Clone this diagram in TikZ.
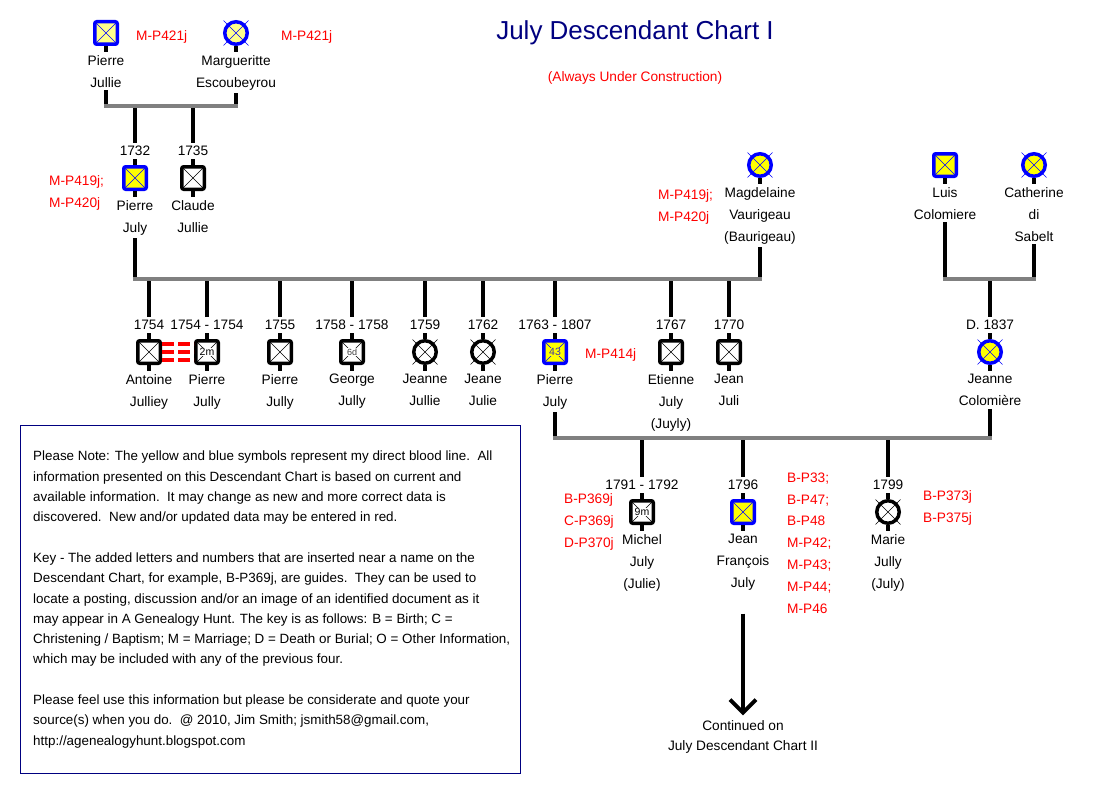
\documentclass[tikz,border=0pt]{standalone}
\usepackage{fontspec}
\setmainfont{Liberation Sans}
\usetikzlibrary{positioning,arrows.meta}

\definecolor{bloodblue}{RGB}{0,0,255}
\definecolor{bloodyellow}{RGB}{255,255,0}
\definecolor{paleyellow}{RGB}{255,255,140}
\definecolor{navy}{RGB}{0,0,128}
\definecolor{bargray}{RGB}{128,128,128}
\definecolor{badgeblue}{RGB}{60,50,170}

\begin{document}
\begin{tikzpicture}[
  x=1pt, y=-1pt,
  every node/.style={font=\fontsize{13.7}{22}\selectfont, align=center, inner sep=3pt},
  xline/.style={line width=0.6pt, black},
  male/.style={rectangle, rounded corners=2pt, draw=black, fill=white, line width=3.5pt,
    minimum size=22.5pt, inner sep=0pt,
    path picture={\draw[xline] (path picture bounding box.north west) -- (path picture bounding box.south east)
      (path picture bounding box.north east) -- (path picture bounding box.south west);}},
  female/.style={circle, draw=black, fill=white, line width=3.5pt, minimum size=22.5pt, inner sep=0pt},
  blood/.style={draw=bloodblue, fill=bloodyellow, xline/.style={line width=0.6pt, bloodblue}},
  badge/.style={font=\fontsize{10.5}{10}\selectfont, fill=white, inner sep=0.6pt},
  refnote/.style={text=red, align=left, anchor=west},
  kin/.style={line width=4pt, black},
  stub/.style={line width=3.5pt, black},
  bar/.style={line width=4pt, bargray, line cap=rect},
  twin/.style={line width=3.5pt, red, dash pattern=on 12pt off 4pt},
  contarrow/.style={line width=4pt, -{Straight Barb[length=13pt, width=26pt]}},
  charttitle/.style={font=\fontsize{26}{30}\selectfont, text=navy},
  notetext/.style={font=\fontsize{13.4}{20.3}\selectfont, align=left, anchor=north west, inner sep=0pt}
]
  \fill[white] (0,0) rectangle (1102,784);
  \useasboundingbox (0,0) rectangle (1102,784);

  \node[charttitle] (title) at (635,33) {July Descendant Chart I};
  \node[text=red] (sub) at (635,78) {(Always Under Construction)};

  % grandparents
  \node[male, blood, fill=paleyellow] (pj) at (106,33) {};
  \node[below=6pt of pj] (pj-n) {Pierre\\Jullie};
  \node[female, blood, fill=paleyellow] (me) at (236,33) {};
  \node[below=6pt of me] (me-n) {Margueritte\\Escoubeyrou};
  \node[refnote] (pj-r) at (133,37) {M-P421j};
  \node[refnote] (me-r) at (278,37) {M-P421j};

  % their sons
  \node[male, blood] (pjy) at (135,178) {};
  \node[above=6pt of pjy] (pjy-d) {1732};
  \node[below=6pt of pjy] (pjy-n) {Pierre\\July};
  \node[male] (cj) at (193,178) {};
  \node[above=6pt of cj] (cj-d) {1735};
  \node[below=6pt of cj] (cj-n) {Claude\\Jullie};
  \node[refnote] (pjy-r) at (46,193) {M-P419j;\\M-P420j};

  \node[female, blood] (mv) at (760,165) {};
  \node[below=6pt of mv] (mv-n) {Magdelaine\\Vaurigeau\\(Baurigeau)};
  \node[refnote] (mv-r) at (655,207) {M-P419j;\\M-P420j};

  \node[male, blood] (lc) at (945,165) {};
  \node[below=6pt of lc] (lc-n) {Luis\\Colomiere};
  \node[female, blood] (cs) at (1034,165) {};
  \node[below=6pt of cs] (cs-n) {Catherine\\di\\Sabelt};

  % children of Pierre and Magdelaine
  \node[male] (aj) at (149,352) {};
  \node[above=6pt of aj] (aj-d) {1754};
  \node[below=6pt of aj] (aj-n) {Antoine\\Julliey};
  \node[male] (pj2) at (207,352) {};
  \node[above=6pt of pj2] (pj2-d) {1754 - 1754};
  \node[below=6pt of pj2] (pj2-n) {Pierre\\Jully};
  \node[male] (pj3) at (280,352) {};
  \node[above=6pt of pj3] (pj3-d) {1755};
  \node[below=6pt of pj3] (pj3-n) {Pierre\\Jully};
  \node[male] (gj) at (352,352) {};
  \node[above=6pt of gj] (gj-d) {1758 - 1758};
  \node[below=6pt of gj] (gj-n) {George\\Jully};
  \node[female] (jj) at (425,352) {};
  \node[above=6pt of jj] (jj-d) {1759};
  \node[below=6pt of jj] (jj-n) {Jeanne\\Jullie};
  \node[female] (jl) at (483,352) {};
  \node[above=6pt of jl] (jl-d) {1762};
  \node[below=6pt of jl] (jl-n) {Jeane\\Julie};
  \node[male, blood] (pjl) at (555,352) {};
  \node[above=6pt of pjl] (pjl-d) {1763 - 1807};
  \node[below=6pt of pjl] (pjl-n) {Pierre\\July};
  \node[refnote] (pjl-r) at (582,355) {M-P414j};
  \node[male] (ej) at (671,352) {};
  \node[above=6pt of ej] (ej-d) {1767};
  \node[below=6pt of ej] (ej-n) {Etienne\\July\\(Juyly)};
  \node[male] (ju) at (729,352) {};
  \node[above=6pt of ju] (ju-d) {1770};
  \node[below=6pt of ju] (ju-n) {Jean\\Juli};

  \node[female, blood] (jc) at (990,352) {};
  \node[above=6pt of jc] (jc-d) {D. 1837};
  \node[below=6pt of jc] (jc-n) {Jeanne\\Colomière};

  % children of Pierre and Jeanne
  \node[male] (mj) at (642,512) {};
  \node[above=6pt of mj] (mj-d) {1791 - 1792};
  \node[below=6pt of mj] (mj-n) {Michel\\July\\(Julie)};
  \node[refnote] (mj-r) at (561,522) {B-P369j\\C-P369j\\D-P370j};
  \node[male, blood] (jf) at (743,512) {};
  \node[above=6pt of jf] (jf-d) {1796};
  \node[below=6pt of jf] (jf-n) {Jean\\François\\July};
  \node[refnote, font=\fontsize{13.7}{21.8}\selectfont] (jf-r) at (784,543) {B-P33;\\B-P47;\\B-P48\\M-P42;\\M-P43;\\M-P44;\\M-P46};
  \node[female] (mr) at (888,512) {};
  \node[above=6pt of mr] (mr-d) {1799};
  \node[below=6pt of mr] (mr-n) {Marie\\Jully\\(July)};
  \node[refnote] (mr-r) at (920,508) {B-P373j\\B-P375j};

  % marks inside symbols
  \node[badge] (pj2-t) at (pj2) {2m};
  \node[badge, font=\fontsize{9}{9}\selectfont, text=darkgray] (gj-t) at (gj) {6d};
  \node[badge, fill=bloodyellow, text=badgeblue] (pjl-t) at (pjl) {43};
  \node[badge] (mj-t) at (mj) {9m};

  \foreach \n in {me, mv, cs, jc}
    \draw[xline, bloodblue] (\n.center) ++(-12.5,-12.5) -- ++(25,25) ++(0,-25) -- ++(-25,25);
  \foreach \n in {jj, jl, mr}
    \draw[xline] (\n.center) ++(-12.5,-12.5) -- ++(25,25) ++(0,-25) -- ++(-25,25);

  \foreach \dy in {-8,0,8}
    \draw[twin] ([yshift=\dy pt]aj.east) -- ([yshift=\dy pt]pj2.west);

  % stubs
  \foreach \p in {pj, me, pjy, cj, mv, lc, cs, aj, pj2, pj3, gj, jj, jl, pjl, ej, ju, jc, mj, jf, mr}
    \draw[stub] (\p) -- (\p-n);
  \foreach \p in {pjy, cj, aj, pj2, pj3, gj, jj, jl, pjl, ej, ju, jc, mj, jf, mr}
    \draw[stub] (\p-d) -- (\p);

  % family lines
  \coordinate (b1) at (106,106);
  \coordinate (b2) at (135,279);
  \coordinate (b3) at (945,279);
  \coordinate (b4) at (555,438);

  \draw[kin] (pj-n) -- (pj-n |- b1);
  \draw[kin] (me-n) -- (me-n |- b1);
  \foreach \c in {pjy, cj}
    \draw[kin] (\c-d) -- (\c-d |- b1);

  \draw[kin] (pjy-n) -- (pjy-n |- b2);
  \draw[kin] (mv-n) -- (mv-n |- b2);
  \foreach \c in {aj, pj2, pj3, gj, jj, jl, pjl, ej, ju}
    \draw[kin] (\c-d) -- (\c-d |- b2);

  \draw[kin] (lc-n) -- (lc-n |- b3);
  \draw[kin] (cs-n) -- (cs-n |- b3);
  \draw[kin] (jc-d) -- (jc-d |- b3);

  \draw[kin] (pjl-n) -- (pjl-n |- b4);
  \draw[kin] (jc-n) -- (jc-n |- b4);
  \foreach \c in {mj, jf, mr}
    \draw[kin] (\c-d) -- (\c-d |- b4);

  \draw[bar] (pj-n |- b1) -- (me-n |- b1);
  \draw[bar] (pjy-n |- b2) -- (mv-n |- b2);
  \draw[bar] (lc-n |- b3) -- (cs-n |- b3);
  \draw[bar] (pjl-n |- b4) -- (jc-n |- b4);

  % continuation
  \node[font=\fontsize{13.7}{20}\selectfont] (cont) at (743,737) {Continued on\\July Descendant Chart II};
  \coordinate[below=20pt of jf-n] (cont-top);
  \draw[contarrow, shorten >=2pt] (cont-top) -- (cont-top |- cont.north);

  % note box
  \draw[navy, line width=1pt] (20,425) rectangle (520,773);
  \node[notetext] (note) at (33,451) {Please Note: The yellow and blue symbols represent my direct blood line.\ \ All\\
    information presented on this Descendant Chart is based on current and\\
    available information.\ \ It may change as new and more correct data is\\
    discovered.\ \ New and/or updated data may be entered in red.\\[20.3pt]
    Key - The added letters and numbers that are inserted near a name on the\\
    Descendant Chart, for example, B-P369j, are guides.\ \ They can be used to\\
    locate a posting, discussion and/or an image of an identified document as it\\
    may appear in A Genealogy Hunt. The key is as follows: B = Birth; C =\\
    Christening / Baptism; M = Marriage; D = Death or Burial; O = Other Information,\\
    which may be included with any of the previous four.\\[20.3pt]
    Please feel use this information but please be considerate and quote your\\
    source(s) when you do.\ \ @ 2010, Jim Smith; jsmith58@gmail.com,\\
    http://agenealogyhunt.blogspot.com};
\end{tikzpicture}
\end{document}
